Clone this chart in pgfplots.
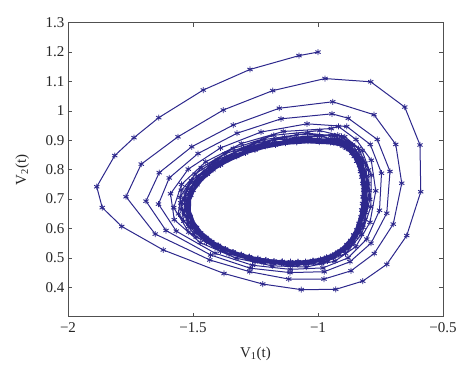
\documentclass[border=0pt]{standalone}
\usepackage{pgfplots}
\pgfplotsset{compat=1.18}
\usepackage{fontspec}
\setmainfont{Liberation Serif}
\definecolor{traj}{RGB}{45,40,140}
\definecolor{axgray}{RGB}{80,80,80}
\begin{document}
\begin{tikzpicture}[x=1pt,y=1pt]
\useasboundingbox (-68,-62.3) rectangle (406,316.7);
\begin{axis}[at={(0,0)}, anchor=south west, scale only axis,
  width=375pt, height=294pt,
  xmin=-2, xmax=-0.5, ymin=0.3, ymax=1.3,
  xtick={-2,-1.5,-1,-0.5}, xticklabels={−2,−1.5,−1,−0.5},
  ytick={0.4,0.5,0.6,0.7,0.8,0.9,1,1.1,1.2,1.3},
  yticklabels={0.4,0.5,0.6,0.7,0.8,0.9,1,1.1,1.2,1.3},
  tick align=inside, major tick length=4pt,
  axis line style={axgray, line width=0.9pt},
  tick style={axgray, line width=0.7pt},
  ticklabel style={font=\fontsize{15}{17}\selectfont, text=black!85},
  xticklabel style={yshift=-2pt},
  label style={font=\fontsize{15}{17}\selectfont, text=black!85},
  xlabel={V\textsubscript{1}(t)}, ylabel={V\textsubscript{2}(t)},
  xlabel style={at={(axis description cs:0.5,-0.126)}, anchor=center},
  ylabel style={at={(axis description cs:-0.122,0.5)}, anchor=center},
  clip=false,
]
\addplot[traj, line width=1pt, mark=asterisk, mark size=3pt,
  mark options={line width=0.9pt}] coordinates {
(-1.000,1.200) (-1.076,1.188) (-1.272,1.141) (-1.459,1.071) (-1.637,0.977)
(-1.736,0.909) (-1.813,0.848) (-1.885,0.742) (-1.863,0.671) (-1.785,0.607)
(-1.619,0.527) (-1.376,0.447) (-1.221,0.411) (-1.067,0.392) (-0.929,0.393)
(-0.821,0.421) (-0.725,0.478) (-0.645,0.576) (-0.589,0.725) (-0.592,0.884)
(-0.653,1.013) (-0.789,1.099)
(-0.972,1.110) (-1.181,1.069) (-1.379,1.003) (-1.560,0.912) (-1.707,0.819)
(-1.768,0.708) (-1.651,0.581) (-1.433,0.493) (-1.273,0.453) (-1.117,0.428)
(-0.976,0.428) (-0.868,0.456) (-0.775,0.515) (-0.699,0.615) (-0.665,0.754)
(-0.689,0.886) (-0.776,0.987)
(-0.941,1.031) (-1.155,1.009) (-1.339,0.952) (-1.505,0.878) (-1.635,0.790)
(-1.688,0.693) (-1.608,0.593) (-1.430,0.510) (-1.272,0.465) (-1.112,0.450)
(-0.975,0.453) (-0.872,0.487) (-0.788,0.550) (-0.725,0.652) (-0.712,0.794)
(-0.763,0.903) (-0.879,0.975)
(-0.944,0.990) (-1.148,0.973) (-1.324,0.924) (-1.480,0.855) (-1.595,0.772)
(-1.638,0.683) (-1.567,0.591) (-1.412,0.516) (-1.262,0.475) (-1.111,0.461)
(-0.980,0.466) (-0.880,0.500) (-0.805,0.564) (-0.754,0.662) (-0.746,0.788)
(-0.791,0.886) (-0.885,0.947)
(-1.044,0.956) (-1.228,0.928) (-1.390,0.874) (-1.519,0.802) (-1.590,0.718)
(-1.575,0.630) (-1.471,0.552) (-1.328,0.499) (-1.183,0.473) (-1.047,0.469)
(-0.932,0.489) (-0.849,0.538) (-0.792,0.621) (-0.769,0.728) (-0.787,0.832)
(-0.848,0.903) (-0.918,0.947)
(-0.947,0.940) (-1.139,0.930) (-1.307,0.889) (-1.449,0.827) (-1.546,0.750)
(-1.577,0.671) (-1.517,0.588) (-1.390,0.523) (-1.251,0.487) (-1.111,0.474)
(-0.985,0.481) (-0.890,0.515) (-0.826,0.580) (-0.789,0.674) (-0.787,0.781)
(-0.824,0.865) (-0.893,0.912)
(-0.993,0.933) (-1.177,0.917) (-1.339,0.872) (-1.467,0.807) (-1.547,0.730)
(-1.558,0.650) (-1.487,0.571) (-1.356,0.514) (-1.217,0.484) (-1.081,0.477)
(-0.962,0.490) (-0.876,0.533) (-0.820,0.604) (-0.793,0.699) (-0.798,0.799)
(-0.838,0.872) (-0.906,0.913)
(-1.042,0.924) (-1.219,0.902) (-1.373,0.853) (-1.491,0.785) (-1.552,0.706)
(-1.537,0.625) (-1.446,0.554) (-1.316,0.506) (-1.179,0.482) (-1.048,0.479)
(-0.938,0.500) (-0.860,0.549) (-0.812,0.631) (-0.795,0.729) (-0.812,0.822)
(-0.862,0.884) (-0.921,0.918)
(-1.087,0.919) (-1.259,0.888) (-1.403,0.833) (-1.506,0.763) (-1.549,0.687)
(-1.517,0.607) (-1.418,0.541) (-1.283,0.499) (-1.146,0.481) (-1.019,0.483)
(-0.917,0.511) (-0.849,0.569) (-0.810,0.655) (-0.800,0.752) (-0.825,0.837)
(-0.876,0.888) (-0.934,0.915)
(-0.948,0.916) (-1.134,0.910) (-1.298,0.873) (-1.434,0.813) (-1.523,0.740)
(-1.549,0.666) (-1.493,0.586) (-1.380,0.527) (-1.245,0.492) (-1.110,0.481)
(-0.987,0.488) (-0.895,0.523) (-0.835,0.587) (-0.806,0.679) (-0.806,0.778)
(-0.839,0.855) (-0.896,0.896)
(-0.994,0.914) (-1.174,0.901) (-1.332,0.859) (-1.455,0.796) (-1.529,0.722)
(-1.535,0.646) (-1.468,0.570) (-1.348,0.517) (-1.213,0.488) (-1.080,0.482)
(-0.964,0.496) (-0.880,0.539) (-0.828,0.611) (-0.806,0.703) (-0.814,0.797)
(-0.851,0.864) (-0.909,0.900)
(-1.041,0.908) (-1.214,0.889) (-1.365,0.842) (-1.478,0.776) (-1.534,0.701)
(-1.518,0.622) (-1.434,0.554) (-1.311,0.509) (-1.177,0.486) (-1.049,0.483)
(-0.940,0.505) (-0.865,0.555) (-0.821,0.635) (-0.807,0.730) (-0.825,0.818)
(-0.869,0.875) (-0.923,0.904)
(-1.086,0.906) (-1.256,0.878) (-1.397,0.825) (-1.495,0.756) (-1.534,0.683)
(-1.501,0.605) (-1.408,0.541) (-1.279,0.501) (-1.145,0.485) (-1.019,0.487)
(-0.919,0.515) (-0.853,0.574) (-0.817,0.659) (-0.810,0.752) (-0.835,0.833)
(-0.881,0.881) (-0.936,0.904)
(-0.949,0.904) (-1.132,0.900) (-1.294,0.865) (-1.427,0.806) (-1.511,0.735)
(-1.533,0.663) (-1.481,0.586) (-1.375,0.528) (-1.243,0.495) (-1.110,0.484)
(-0.989,0.492) (-0.898,0.527) (-0.840,0.591) (-0.814,0.682) (-0.816,0.777)
(-0.848,0.850) (-0.898,0.888)
(-0.994,0.904) (-1.172,0.892) (-1.328,0.852) (-1.449,0.790) (-1.518,0.717)
(-1.523,0.643) (-1.458,0.570) (-1.343,0.519) (-1.210,0.491) (-1.080,0.484)
(-0.965,0.499) (-0.882,0.542) (-0.832,0.614) (-0.813,0.706) (-0.822,0.795)
(-0.858,0.860) (-0.911,0.893)
(-1.040,0.901) (-1.212,0.882) (-1.361,0.837) (-1.472,0.772) (-1.525,0.698)
(-1.509,0.621) (-1.428,0.555) (-1.308,0.510) (-1.176,0.488) (-1.050,0.486)
(-0.942,0.507) (-0.867,0.557) (-0.825,0.638) (-0.814,0.731) (-0.831,0.815)
(-0.873,0.871) (-0.924,0.897)
(-1.085,0.899) (-1.254,0.872) (-1.393,0.820) (-1.490,0.752) (-1.527,0.680)
(-1.494,0.604) (-1.403,0.542) (-1.276,0.503) (-1.144,0.486) (-1.020,0.489)
(-0.920,0.517) (-0.855,0.576) (-0.821,0.661) (-0.816,0.753) (-0.840,0.831)
(-0.884,0.877) (-0.936,0.898)
(-0.950,0.899) (-1.131,0.895) (-1.292,0.861) (-1.423,0.803) (-1.505,0.732)
(-1.527,0.661) (-1.475,0.585) (-1.372,0.529) (-1.241,0.497) (-1.110,0.486)
(-0.990,0.493) (-0.899,0.528) (-0.843,0.593) (-0.818,0.684) (-0.820,0.776)
(-0.851,0.847) (-0.899,0.884)
(-0.995,0.899) (-1.171,0.888) (-1.327,0.848) (-1.446,0.788) (-1.514,0.715)
(-1.517,0.642) (-1.453,0.569) (-1.341,0.519) (-1.209,0.492) (-1.080,0.486)
(-0.965,0.501) (-0.883,0.543) (-0.834,0.615) (-0.817,0.707) (-0.826,0.795)
(-0.861,0.858) (-0.911,0.889)
(-1.040,0.897) (-1.211,0.879) (-1.359,0.835) (-1.468,0.770) (-1.520,0.696)
(-1.505,0.621) (-1.425,0.555) (-1.306,0.511) (-1.176,0.489) (-1.050,0.487)
(-0.942,0.509) (-0.869,0.559) (-0.828,0.639) (-0.817,0.731) (-0.834,0.814)
(-0.874,0.868) (-0.925,0.893)
(-1.085,0.896) (-1.253,0.870) (-1.392,0.818) (-1.487,0.751) (-1.523,0.679)
(-1.490,0.604) (-1.400,0.542) (-1.275,0.503) (-1.143,0.487) (-1.020,0.490)
(-0.920,0.518) (-0.856,0.577) (-0.823,0.662) (-0.818,0.753) (-0.842,0.830)
(-0.886,0.875) (-0.937,0.895)
(-0.950,0.893) (-1.130,0.890) (-1.290,0.857) (-1.420,0.800) (-1.500,0.730)
(-1.520,0.660) (-1.470,0.585) (-1.370,0.530) (-1.240,0.498) (-1.110,0.487)
(-0.990,0.495) (-0.900,0.530) (-0.845,0.595) (-0.822,0.685) (-0.825,0.775)
(-0.855,0.845) (-0.900,0.880)
(-0.995,0.894) (-1.170,0.884) (-1.325,0.845) (-1.443,0.785) (-1.509,0.713)
(-1.511,0.641) (-1.448,0.569) (-1.339,0.520) (-1.208,0.493) (-1.080,0.487)
(-0.966,0.502) (-0.884,0.545) (-0.836,0.617) (-0.820,0.708) (-0.830,0.794)
(-0.864,0.856) (-0.912,0.886)
(-1.085,0.893) (-1.252,0.867) (-1.390,0.816) (-1.484,0.749) (-1.519,0.678)
(-1.486,0.603) (-1.398,0.542) (-1.274,0.504) (-1.143,0.488) (-1.020,0.491)
(-0.921,0.519) (-0.857,0.578) (-0.825,0.663) (-0.821,0.753) (-0.845,0.829)
(-0.887,0.873) (-0.937,0.892)
};
\end{axis}
\end{tikzpicture}
\end{document}
